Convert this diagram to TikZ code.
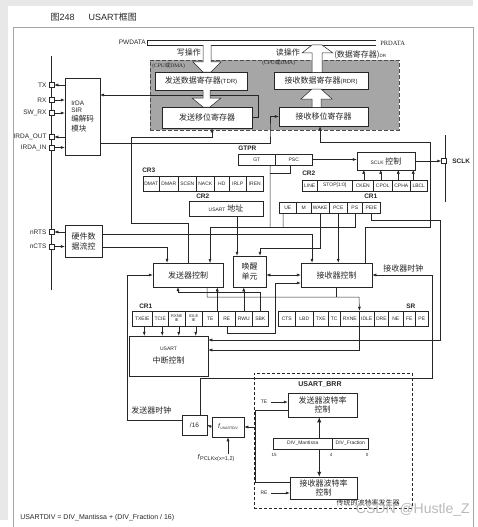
\documentclass[tikz,border=0pt]{standalone}
\usepackage{fontspec}
\setmainfont{Liberation Sans}
\newfontfamily\cjk{Noto Sans CJK SC}
\newfontfamily\rmlat{Liberation Serif}
\usetikzlibrary{arrows.meta}
\newcommand{\fsz}[1]{\fontsize{#1}{#1}\selectfont}

\begin{document}
\begin{tikzpicture}[x=1pt,y=-1pt,line width=0.5pt,color=black!85,
    box/.style={draw,fill=white,inner sep=1pt,align=center,font=\cjk\fsz{8}},
    bit/.style={draw,fill=white,inner sep=0pt,minimum height=11pt,anchor=west,
        align=center,font=\fsz{5}},
    pin/.style={draw,fill=white,minimum size=5pt,inner sep=0pt},
    pinlbl/.style={font=\fsz{6.5},inner sep=0.5pt,label distance=1.5pt},
    arr/.style={-{Latex[length=4pt,width=3pt]}},
    reg/.style={font=\bfseries\fsz{6.5},inner sep=0pt,anchor=west}]

  \useasboundingbox (0,0) rectangle (477,527);

  % the page
  \fill[gray!18] (0,0) rectangle (473,6);
  \fill[gray!18] (0,0) rectangle (8,520);
  \draw[gray!70] (13,527) -- (13,27) -- (473,27) -- (473,527);
  \node[anchor=west,font=\fsz{9}] (title) at (47,17)
    {{\cjk 图}248\hspace{14pt}USART{\cjk 框图}};

  % data bus
  \node[anchor=east,font=\fsz{6.5},inner sep=1pt] (pwdata) at (147,42) {PWDATA};
  \node[anchor=west,font=\rmlat\fsz{6.5},inner sep=1pt] (prdata) at (379,43) {PRDATA};
  \draw (376,40) -- (147,40) -- (147,45) -- (203,45);
  \draw (211,45) -- (312,45);
  \draw (322,45) -- (376,45);

  % CPU or DMA area
  \node[draw=gray!60!black,dash pattern=on 4pt off 2pt,fill=gray!70,
    minimum width=249pt,minimum height=70pt,inner sep=0pt] (dma) at (274.5,95) {};
  \node[anchor=west,font=\rmlat\fsz{5.5},inner sep=0pt] (cpua) at (152,66) {(CPU{\cjk 或}DMA)};
  \node[anchor=west,font=\rmlat\fsz{5.5},inner sep=0pt] (cpub) at (262,63) {(CPU{\cjk 或}DMA)};

  \node[box,minimum width=92pt,minimum height=18pt] (tdr) at (201,81)
    {发送数据寄存器{\normalfont\fsz{6}(TDR)}};
  \node[box,minimum width=94pt,minimum height=17pt] (rdr) at (321,80.5)
    {接收数据寄存器{\normalfont\fsz{6}(RDR)}};
  \node[box,minimum width=90pt,minimum height=21pt] (txshift) at (207,117.5) {发送移位寄存器};
  \node[box,minimum width=89pt,minimum height=19pt] (rxshift) at (323.5,116.5) {接收移位寄存器};

  % transmit data out to IrDA
  \coordinate (txout) at (82,95);
  \draw[arr] (txshift.east) -- ++(6,0) |- (txout -| 100,0);

  % the hollow arrows
  \tikzstyle{hollow}=[draw,fill=white]
  \draw[hollow] (203,45) -- (203,62) -- (193,62) -- (203,72) -- (211,72) -- (221,62) -- (211,62) -- (211,45);
  \draw[hollow] (203,90) -- (203,98) -- (192,98) -- (203,107) -- (210,107) -- (221,98) -- (210,98) -- (210,90);
  \draw[hollow] (312,107) -- (312,99) -- (301,99) -- (312,89) -- (321,89) -- (332,99) -- (321,99) -- (321,107);
  \draw[hollow] (312,72) -- (312,53) -- (302,53) -- (312,45) -- (322,45) -- (333,53) -- (322,53) -- (322,72);

  \node[anchor=east,font=\cjk\fsz{8},inner sep=1pt] (wrop) at (202,52) {写操作};
  \node[anchor=east,font=\cjk\fsz{8},inner sep=1pt] (rdop) at (301,52) {读操作};
  \node[anchor=west,font=\cjk\fsz{8},inner sep=1pt] (drl) at (333,55)
    {(数据寄存器){\normalfont\fsz{4.5}DR}};

  % pins
  \coordinate (bustop) at (51.5,56);
  \coordinate (busbot) at (51.5,290);
  \draw (bustop) -- (busbot);
  \node[pin,label={[pinlbl]left:TX}] (tx) at (51.5,85) {};
  \node[pin,label={[pinlbl]left:RX}] (rx) at (51.5,100) {};
  \node[pin,label={[pinlbl]left:SW\_RX}] (swrx) at (51.5,113) {};
  \node[pin,label={[pinlbl]left:IRDA\_OUT}] (irdaout) at (51.5,137) {};
  \node[pin,label={[pinlbl]left:IRDA\_IN}] (irdain) at (51.5,147.5) {};
  \node[pin,label={[pinlbl]left:nRTS}] (nrts) at (51.5,232) {};
  \node[pin,label={[pinlbl]left:nCTS}] (ncts) at (51.5,246.5) {};

  \node[box,minimum width=35pt,minimum height=77pt,align=left,font=\fsz{6.5}] (irda) at (82.5,116.5)
    {IrDA\\[1pt]SIR\\[2pt]{\cjk\fsz{7.5}编解码}\\[2pt]{\cjk\fsz{7.5}模块}};
  \node[box,minimum width=37pt,minimum height=32pt] (flow) at (83.5,241) {硬件数\\[2pt]据流控};

  \draw[arr] (irda.west |- tx) -- (tx.east);
  \draw[arr] (rx.east) -- (rx -| irda.west);
  \draw[arr] (swrx.east) -- (swrx -| irda.west);
  \draw[arr] (irda.west |- irdaout) -- (irdaout.east);
  \draw[arr] (irdain.east) -- (irdain -| irda.west);
  \draw[arr] (flow.west |- nrts) -- (nrts.east);
  \draw[arr] (ncts.east) -- (ncts -| flow.west);

  % GTPR and SCLK
  \node[reg] (gtprl) at (238,148) {GTPR};
  \node[bit,minimum width=37pt] (gt) at (238,159.5) {GT};
  \node[bit,minimum width=37pt] (psc) at (275,159.5) {PSC};
  \node[box,minimum width=58pt,minimum height=18pt] (sclkc) at (386,161)
    {{\normalfont\fsz{5}SCLK} 控制};
  \coordinate (sclktop) at (445,135);
  \coordinate (sclkbot) at (445,202);
  \draw (sclktop) -- (sclkbot);
  \node[pin,label={[font=\bfseries\fsz{6.5},label distance=2pt]right:SCLK}] (sclk) at (444,161) {};
  \draw[arr] (psc.east) -- (psc.east -| sclkc.west);
  \draw[arr] (sclkc.east) -- (sclk.west);

  % CR2
  \node[reg] (cr2l) at (302,173) {CR2};
  \node[bit,minimum width=15pt] (lin) at (302,185.5) {LINE};
  \node[bit,minimum width=35pt] (stop) at (317,185.5) {STOP[1:0]};
  \node[bit,minimum width=21pt] (cken) at (352,185.5) {CKEN};
  \node[bit,minimum width=19pt] (cpol) at (373,185.5) {CPOL};
  \node[bit,minimum width=18pt] (cpha) at (392,185.5) {CPHA};
  \node[bit,minimum width=17pt] (lbcl) at (410,185.5) {LBCL};
  \draw[arr] ([xshift=1pt]cken.north) -- ++(0,-10);
  \draw[arr] ([xshift=-2pt]cpol.north) -- ++(0,-10);
  \draw[arr] ([xshift=-3pt]cpha.north) -- ++(0,-10);
  \draw[arr] ([xshift=-5.5pt]lbcl.north) -- ++(0,-10);

  % CR3
  \node[reg] (cr3l) at (142,170) {CR3};
  \node[bit,minimum width=16pt,minimum height=15pt] (dmat) at (143,183.5) {DMAT};
  \node[bit,minimum width=19pt,minimum height=15pt] (dmar) at (159,183.5) {DMAR};
  \node[bit,minimum width=18pt,minimum height=15pt] (scen) at (178,183.5) {SCEN};
  \node[bit,minimum width=18pt,minimum height=15pt] (nack) at (196,183.5) {NACK};
  \node[bit,minimum width=15pt,minimum height=15pt] (hd) at (214,183.5) {HD};
  \node[bit,minimum width=17pt,minimum height=15pt] (irlp) at (229,183.5) {IRLP};
  \node[bit,minimum width=17pt,minimum height=15pt] (iren) at (246,183.5) {IREN};

  % CR2 address
  \node[reg] (cr2b) at (196,196) {CR2};
  \node[box,minimum width=74pt,minimum height=15pt] (addr) at (226,208.5)
    {{\normalfont\fsz{5}USART} 地址};

  % CR1
  \node[reg] (cr1a) at (364,196) {CR1};
  \node[bit,minimum width=17pt] (ue) at (279,207.5) {UE};
  \node[bit,minimum width=15pt] (m) at (296,207.5) {M};
  \node[bit,minimum width=18pt] (wk) at (311,207.5) {WAKE};
  \node[bit,minimum width=18pt] (pce) at (329,207.5) {PCE};
  \node[bit,minimum width=15pt] (ps) at (347,207.5) {PS};
  \node[bit,minimum width=18pt] (peie) at (362,207.5) {PEIE};

  % control blocks
  \node[box,minimum width=70pt,minimum height=24pt] (txctl) at (188,275) {发送器控制};
  \node[box,minimum width=71pt,minimum height=24pt] (rxctl) at (336.5,275) {接收器控制};
  \node[box,minimum width=33pt,minimum height=31pt] (wakeup) at (249.5,271.5) {唤醒\\[2pt]单元};

  % connections to the shift registers
  \draw[arr] (irda.east |- 0,143) -| (270,130) |- (rxshift.west);
  \draw[arr] (txctl.north) |- (131,223) |- (212,137) -- ([xshift=5pt]txshift.south);
  \draw[arr] ([xshift=28.5pt]rxctl.north) |- (430,227) |- (320,142) -- ([xshift=-3.5pt]rxshift.south);

  % flow control
  \draw[arr] ([yshift=7pt]flow.east) -| ([xshift=-24.5pt]rxctl.north);
  \draw[arr] ([yshift=-6pt]flow.east) -| ([xshift=-21pt]txctl.north);

  % GTPR and CR1 into the controls
  \draw ([xshift=-3.5pt]psc.south) |- (270,173);
  \draw ([xshift=13.5pt]gt.south) -- (270,227);
  \draw ([xshift=-4.5pt]ue.south) -- (283,227);
  \draw[arr] (ps.south) |- (210,227) -- (210,263);
  \draw[arr] (addr.south -| 237,0) -- (wakeup.north -| 237,0);
  \draw[arr] (wk.south) |- (260,248) -- (wakeup.north -| 260,0);
  \draw[arr] (pce.south) -- (pce.south |- rxctl.north);
  \draw[{Latex[length=4pt,width=3pt]}-{Latex[length=4pt,width=3pt]}]
    (wakeup.east |- rxctl.west) -- (rxctl.west);

  % CR1 and SR
  \node[reg] (cr1b) at (139,306) {CR1};
  \node[bit,minimum width=20pt,minimum height=15pt] (txeie) at (132,318.5) {TXEIE};
  \node[bit,minimum width=16pt,minimum height=15pt] (tcie) at (152,318.5) {TCIE};
  \node[bit,minimum width=17pt,minimum height=15pt,font=\fsz{4}] (rxneie) at (168,318.5) {RXNE\\IE};
  \node[bit,minimum width=17pt,minimum height=15pt,font=\fsz{4}] (idleie) at (185,318.5) {IDLE\\IE};
  \node[bit,minimum width=16pt,minimum height=15pt] (te) at (202,318.5) {TE};
  \node[bit,minimum width=17pt,minimum height=15pt] (re) at (218,318.5) {RE};
  \node[bit,minimum width=17pt,minimum height=15pt] (rwu) at (235,318.5) {RWU};
  \node[bit,minimum width=16pt,minimum height=15pt] (sbk) at (252,318.5) {SBK};

  \node[reg] (srl) at (406,306) {SR};
  \node[bit,minimum width=17pt,minimum height=15pt] (cts) at (278,318.5) {CTS};
  \node[bit,minimum width=18pt,minimum height=15pt] (lbd) at (295,318.5) {LBD};
  \node[bit,minimum width=15pt,minimum height=15pt] (txe) at (313,318.5) {TXE};
  \node[bit,minimum width=12pt,minimum height=15pt] (tc) at (328,318.5) {TC};
  \node[bit,minimum width=19pt,minimum height=15pt] (rxne) at (340,318.5) {RXNE};
  \node[bit,minimum width=15pt,minimum height=15pt] (idle) at (359,318.5) {IDLE};
  \node[bit,minimum width=14pt,minimum height=15pt] (ore) at (374,318.5) {ORE};
  \node[bit,minimum width=15pt,minimum height=15pt] (ne) at (388,318.5) {NE};
  \node[bit,minimum width=12pt,minimum height=15pt] (fe) at (403,318.5) {FE};
  \node[bit,minimum width=13pt,minimum height=15pt] (pe) at (415,318.5) {PE};

  \node[box,minimum width=79pt,minimum height=40pt] (intc) at (168.5,356)
    {{\normalfont\fsz{5}USART}\\[5pt]中断控制};

  \draw[arr] ([xshift=2pt]txeie.south) -- ([xshift=2pt]txeie.south |- intc.north);
  \draw[arr] ([xshift=2pt]tcie.south) -- ([xshift=2pt]tcie.south |- intc.north);
  \draw[arr] ([xshift=2pt]rxneie.south) -- ([xshift=2pt]rxneie.south |- intc.north);
  \draw[arr] ([xshift=2pt]idleie.south) -- ([xshift=2pt]idleie.south |- intc.north);
  \draw[arr] ([xshift=7pt]te.north) -- ([xshift=7pt]te.north |- txctl.south);
  \draw[arr] (sbk.north) |- (178,292) -- (178,287);
  \draw[arr] (rwu.north) -- (rwu.north |- wakeup.south);
  \draw[arr] (re.south) |- (275,333) |- ([yshift=-8pt]rxctl.west);
  \draw[arr] ([xshift=19pt]txctl.south) |- (359,297) -- (rxne.north east);
  \draw (rxctl.south) -- (rxctl.south |- 0,297);
  \draw[arr] (rxne.south east) |- ([yshift=6pt]intc.east);
  \draw[arr] (peie.south) |- (440,220) |- ([yshift=16pt]intc.east);

  % clocks
  \node[box,font=\fsz{6.5},minimum width=25pt,minimum height=20pt] (div16) at (194.5,425) {/16};
  \node[box,font=\fsz{6.5},minimum width=32pt,minimum height=20pt] (fdiv) at (228,427)
    {\textit{f}\raisebox{-1pt}{\fsz{3.5}USARTDIV}};
  \node[font=\fsz{7},inner sep=0pt] (fpclk) at (216,458)
    {\textit{f}\raisebox{-1.8pt}{\fsz{5.5}PCLKx(x=1,2)}};
  \draw[arr] (fpclk.north -| fdiv.south) -- (fdiv.south);
  \draw[arr] (fdiv.west) -- (div16.east);
  \draw[arr] ([yshift=5pt]div16.west) -| ([xshift=-26pt]txctl.west) -- (txctl.west);
  \draw[arr] ([xshift=5.5pt]div16.north) |- (432,378) |- (rxctl.east);
  \node[anchor=west,font=\cjk\fsz{8},inner sep=0pt] (txclk) at (131,410) {发送器时钟};
  \node[anchor=west,font=\cjk\fsz{8},inner sep=0pt] (rxclk) at (383,268) {接收器时钟};

  % baud rate
  \node[draw,dash pattern=on 3pt off 2pt,minimum width=158pt,minimum height=135pt,
    inner sep=0pt] (brr) at (333,440.5) {};
  \node[font=\bfseries\fsz{7}] (brrl) at (320,384) {USART\_BRR};
  \node[box,minimum width=69pt,minimum height=24pt] (txbaud) at (322.5,405) {发送器波特率\\[1pt]控制};
  \node[box,minimum width=67pt,minimum height=22pt] (rxbaud) at (323.5,488) {接收器波特率\\[1pt]控制};
  \node[bit,minimum width=59pt] (mant) at (273,443.5) {DIV\_Mantissa};
  \node[bit,minimum width=36pt] (frac) at (332,443.5) {DIV\_Fraction};
  \node[font=\fsz{4.5}] (b15) at (274,455) {15};
  \node[font=\fsz{4.5}] (b4) at (331,455) {4};
  \node[font=\fsz{4.5}] (b0) at (367,455) {0};
  \node[font=\fsz{5}] (te2) at (264,402) {TE};
  \node[font=\fsz{5}] (re2) at (264,493) {RE};
  \draw[arr] (te2.east) -- (te2.east -| txbaud.west);
  \draw[arr] (re2.east) -- (re2.east -| rxbaud.west);
  \draw[-{Latex[length=5pt,width=4.5pt]},line width=1.2pt]
    ([xshift=16.5pt]mant.north) -- ([xshift=16.5pt]mant.north |- txbaud.south);
  \draw[-{Latex[length=5pt,width=4.5pt]},line width=1.2pt]
    ([xshift=16.5pt]mant.south) -- ([xshift=16.5pt]mant.south |- rxbaud.north);
  \draw ([yshift=-5pt]txbaud.west) -| (255,482) -- ([yshift=6pt]rxbaud.west);
  \draw[arr] (fdiv.east -| 255,0) -- (fdiv.east);
  \node[font=\cjk\fsz{7}] (brrgen) at (368,503) {传统的波特率发生器};

  % the texts
  \node[anchor=west,font=\fsz{7},inner sep=0pt] (formula) at (20,518)
    {USARTDIV = DIV\_Mantissa + (DIV\_Fraction / 16)};
  \node[anchor=east,font=\fsz{14},text=gray!55,inner sep=0pt] (wm) at (470,510) {CSDN @Hustle\_Z};

\end{tikzpicture}
\end{document}
